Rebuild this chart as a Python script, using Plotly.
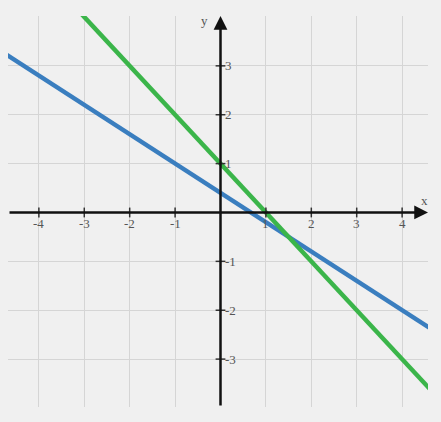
import plotly.graph_objects as go

# visible window of the coordinate plane
x_range = [-4.68, 4.57]
y_range = [-3.98, 4.02]

# the two straight lines (end points beyond the window, clipped by the axes)
line_x = [-6, 6]
green_y = [7, -5]          # y = -x + 1
blue_y = [4.0, -3.2]       # y = -0.6x + 0.4

x_ticks = [-4, -3, -2, -1, 1, 2, 3, 4]
x_tick_text = ["-4", "-3", "-2", "-1", "1", "2", "3", "4"]
y_ticks = [-3, -2, -1, 1, 2, 3]
y_tick_text = ["-3", "-2", "-1", "1", "2", "3"]

BG = "#f0f0f0"
GRID = "#d5d5d5"
LABEL_FONT = dict(family="Liberation Serif", size=13, color="#555555")

fig = go.Figure()

fig.add_trace(go.Scatter(x=line_x, y=blue_y, mode="lines",
                         line=dict(color="#3a7ebf", width=4.5),
                         hoverinfo="skip"))
fig.add_trace(go.Scatter(x=line_x, y=green_y, mode="lines",
                         line=dict(color="#3bb54a", width=4.5),
                         hoverinfo="skip"))

# small tick marks across the axes
fig.add_trace(go.Scatter(x=x_ticks, y=[0] * len(x_ticks), mode="markers",
                         marker=dict(symbol="line-ns", size=7,
                                     line=dict(color="#333333", width=1.5)),
                         hoverinfo="skip"))
fig.add_trace(go.Scatter(x=[0] * len(y_ticks), y=y_ticks, mode="markers",
                         marker=dict(symbol="line-ew", size=7,
                                     line=dict(color="#333333", width=1.5)),
                         hoverinfo="skip"))

annotations = []
for xv, txt in zip(x_ticks, x_tick_text):
    annotations.append(dict(x=xv, y=0, text=txt, showarrow=False,
                            xanchor="center", yanchor="middle", yshift=-11,
                            font=LABEL_FONT))
for yv, txt in zip(y_ticks, y_tick_text):
    annotations.append(dict(x=0, y=yv, text=txt, showarrow=False,
                            xanchor="left", yanchor="middle", xshift=2,
                            font=LABEL_FONT))

# axes with arrow heads
annotations.append(dict(x=x_range[1], y=0, ax=x_range[0], ay=0,
                        xref="x", yref="y", axref="x", ayref="y",
                        text="", showarrow=True, arrowhead=2, arrowsize=1.1,
                        arrowwidth=2.5, arrowcolor="#111111"))
annotations.append(dict(x=0, y=y_range[1], ax=0, ay=y_range[0],
                        xref="x", yref="y", axref="x", ayref="y",
                        text="", showarrow=True, arrowhead=2, arrowsize=1.1,
                        arrowwidth=2.5, arrowcolor="#111111"))

annotations.append(dict(x=4.49, y=0.24, text="x", showarrow=False,
                        font=LABEL_FONT))
annotations.append(dict(x=-0.36, y=3.92, text="y", showarrow=False,
                        font=LABEL_FONT))

fig.update_layout(
    width=441, height=422,
    margin=dict(l=8, r=13, t=16, b=15),
    paper_bgcolor=BG, plot_bgcolor=BG,
    showlegend=False,
    annotations=annotations,
    xaxis=dict(range=x_range, tickvals=x_ticks, showticklabels=False,
               showgrid=True, gridcolor=GRID, gridwidth=1.3,
               zeroline=False, showline=False, fixedrange=True),
    yaxis=dict(range=y_range, tickvals=y_ticks, showticklabels=False,
               showgrid=True, gridcolor=GRID, gridwidth=1.3,
               zeroline=False, showline=False, fixedrange=True),
)

# drop the browser's default body margin so the figure fills the window
fig.write_html("out.html", config={"displayModeBar": False},
               post_script="document.body.style.margin='0';"
                           "document.body.style.background='#f0f0f0';")
